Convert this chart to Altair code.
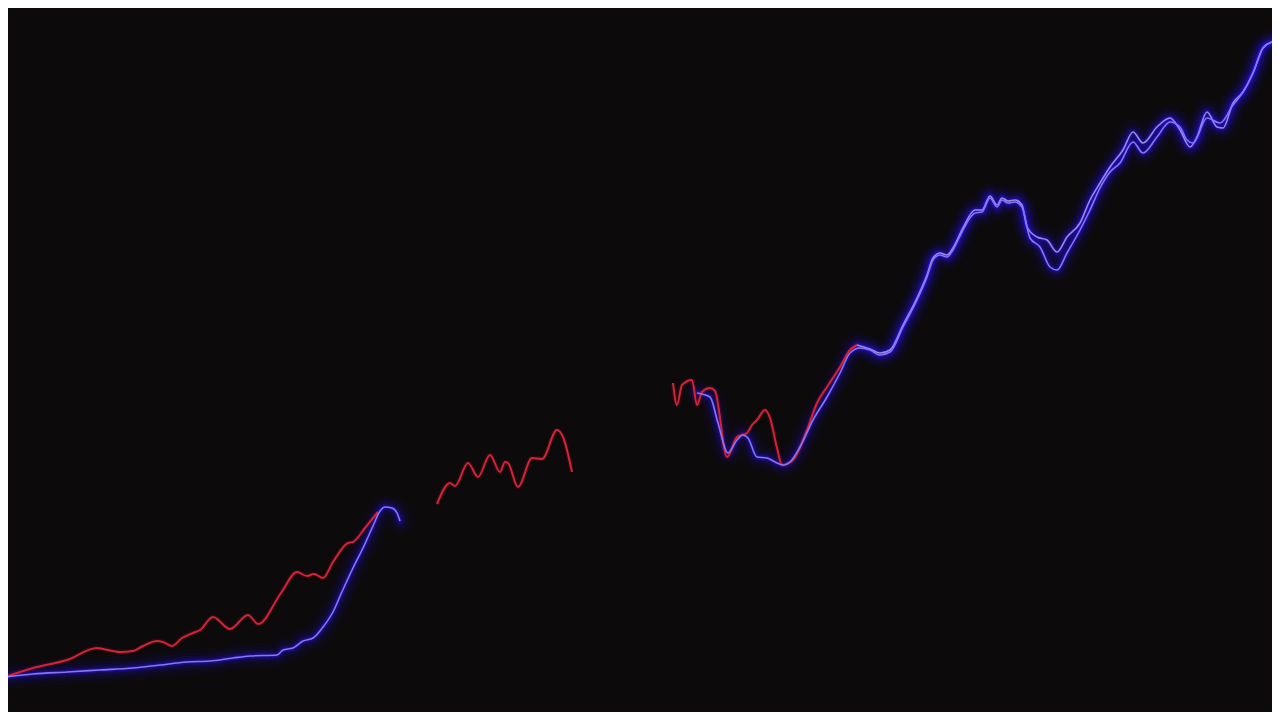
import altair as alt
import pandas as pd

# Values (t = horizontal position, v = level; higher v = higher on chart)
red_seg1_t = [5, 33, 67, 97, 103, 120, 133, 143, 157, 163, 172, 182, 193, 200, 213, 230, 248, 258, 281, 297, 307, 314, 323, 333, 348, 353, 365, 373, 378]
red_seg1_y = [677, 668, 660, 648, 649, 652, 651, 646, 641, 642, 646, 638, 633, 630, 617, 629, 615, 624, 593, 572, 576, 574, 578, 562, 543, 542, 528, 518, 512]

red_seg2_t = [437, 450, 455, 468, 478, 490, 500, 505, 508, 518, 532, 542, 557, 563, 572]
red_seg2_y = [504, 483, 486, 463, 477, 455, 472, 462, 463, 487, 458, 459, 430, 437, 472]

red_seg3_t = [673, 677, 682, 692, 697, 702, 710, 715, 727, 737, 747, 752, 757, 765, 770, 777, 782, 793, 807, 817, 827, 840, 850, 857]
red_seg3_y = [383, 405, 385, 380, 405, 392, 388, 391, 457, 437, 433, 425, 420, 410, 418, 448, 465, 460, 430, 403, 387, 367, 350, 345]

violet_t = [857, 870, 880, 890, 903, 917, 927, 933, 940, 947, 953, 963, 975, 982, 990, 997, 1002, 1008, 1015, 1022, 1027, 1037, 1047, 1057, 1067, 1080, 1090, 1100, 1110, 1123, 1133, 1143, 1157, 1170, 1180, 1190, 1197, 1207, 1217, 1223, 1233, 1243, 1253, 1263, 1272]
violet_y = [345, 349, 353, 350, 325, 298, 275, 258, 253, 255, 248, 228, 210, 210, 196, 205, 198, 201, 200, 205, 227, 237, 240, 252, 237, 223, 200, 183, 167, 150, 132, 143, 127, 118, 130, 147, 137, 112, 127, 128, 103, 92, 73, 48, 42]

blue_seg1_t = [5, 33, 67, 100, 133, 160, 187, 210, 233, 250, 277, 283, 293, 303, 313, 323, 333, 341, 353, 363, 373, 380, 385, 392, 397, 400]
blue_seg1_y = [677, 674, 672, 670, 668, 665, 662, 661, 658, 656, 655, 650, 648, 641, 638, 627, 612, 594, 568, 548, 526, 511, 507, 508, 513, 521]

blue_seg2_t = [697, 710, 718, 728, 737, 743, 748, 757, 767, 775, 783, 790, 800, 813, 827, 840, 850, 860, 870, 880, 890, 903, 917, 927, 933, 940, 947, 953, 958, 963, 975, 982, 990, 997, 1002, 1008, 1015, 1022, 1030, 1040, 1050, 1057, 1067, 1080, 1090, 1100, 1110, 1120, 1133, 1143, 1157, 1170, 1180, 1187, 1193, 1207, 1220, 1233, 1243, 1253, 1263, 1272]
blue_seg2_y = [393, 397, 423, 453, 440, 435, 438, 457, 458, 462, 465, 462, 447, 420, 397, 373, 353, 348, 350, 355, 352, 327, 300, 277, 260, 255, 257, 250, 240, 230, 213, 212, 198, 207, 200, 203, 202, 207, 238, 247, 267, 270, 253, 230, 210, 188, 172, 163, 142, 153, 137, 122, 127, 140, 143, 118, 123, 105, 92, 73, 48, 42]

rows = []
def add(series, seg, ts, ys):
    for t, y in zip(ts, ys):
        rows.append({"t": t, "v": 720 - y, "series": series, "seg": seg})

add("red", "r1", red_seg1_t, red_seg1_y)
add("red", "r2", red_seg2_t, red_seg2_y)
add("red", "r3", red_seg3_t, red_seg3_y)
add("violet", "v1", violet_t, violet_y)
add("blue", "b1", blue_seg1_t, blue_seg1_y)
add("blue", "b2", blue_seg2_t, blue_seg2_y)

df = pd.DataFrame(rows)

W, H = 1264, 704
x = alt.X("t:Q", axis=None, scale=alt.Scale(domain=[8, 1272], nice=False, zero=False))
y = alt.Y("v:Q", axis=None, scale=alt.Scale(domain=[8, 712], nice=False, zero=False))

base = alt.Chart(df).encode(x=x, y=y, detail="seg:N", order="t:Q")
interp = "monotone"

glow_src = base.transform_filter("datum.series != 'red'")
glows = [
    glow_src.mark_line(color="#2a12ff", strokeWidth=w, opacity=o, strokeCap="round",
                       strokeJoin="round", interpolate=interp)
    for w, o in [(26, 0.04), (18, 0.06), (12, 0.09), (7, 0.16), (4, 0.3)]
]

red_glow = base.transform_filter("datum.series == 'red'").mark_line(
    color="#a01020", strokeWidth=5, opacity=0.2, strokeJoin="round", interpolate=interp)
red = base.transform_filter("datum.series == 'red'").mark_line(
    color="#d0243a", strokeWidth=2, strokeJoin="round", interpolate=interp)
violet = base.transform_filter("datum.series == 'violet'").mark_line(
    color="#9a8ad8", strokeWidth=1.6, strokeJoin="round", interpolate=interp)
blue = base.transform_filter("datum.series == 'blue'").mark_line(
    color="#8676f0", strokeWidth=1.6, strokeJoin="round", interpolate=interp)

chart = alt.layer(*glows, red_glow, red, violet, blue).properties(
    width=W, height=H, background="#0c0a0b", padding=0,
    autosize=alt.AutoSizeParams(type="none")
).configure_view(stroke=None)

chart.save("out.html", embed_options={"renderer": "svg", "actions": False})
